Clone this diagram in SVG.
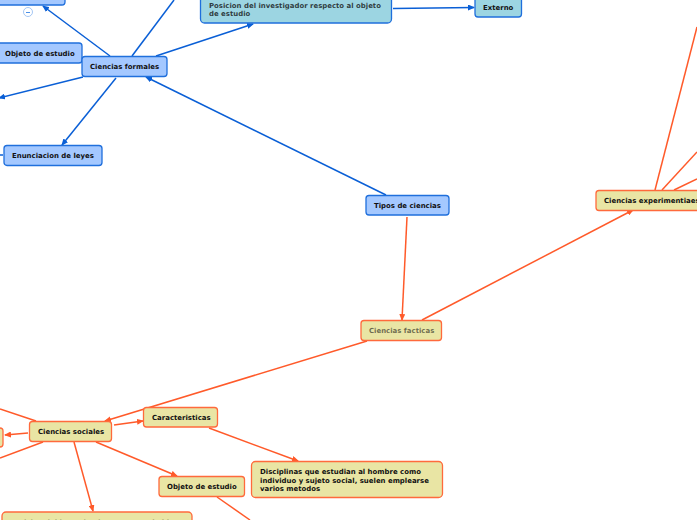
<svg xmlns="http://www.w3.org/2000/svg" width="697" height="520" viewBox="0 0 697 520">
<style>
text{font-family:"DejaVu Sans",Verdana,sans-serif;font-size:6.95px;font-weight:700;fill:#111}
rect{stroke-width:1.3}
.b rect{fill:#a4c8ff;stroke:#1f6fdc}
.c rect{fill:#9cd5e2;stroke:#1f6fdc}
.y rect{fill:#e9e5a4;stroke:#ff6a3c}
#connectors path{fill:none;stroke-width:1.5}
.bl{stroke:#0a5fd6}
.or{stroke:#ff5a2a}
</style>
<defs>
<marker id="ab" markerWidth="7" markerHeight="6" refX="6" refY="3" orient="auto" markerUnits="userSpaceOnUse"><path d="M0 0L7 3L0 6Z" fill="#0a5fd6"/></marker>
<marker id="ao" markerWidth="7" markerHeight="6" refX="6" refY="3" orient="auto" markerUnits="userSpaceOnUse"><path d="M0 0L7 3L0 6Z" fill="#ff5a2a"/></marker>
</defs>
<g id="connectors">
<path class="bl" marker-end="url(#ab)" d="M386 195L146 77"/>
<path class="bl" marker-end="url(#ab)" d="M110 56L43 6"/>
<path class="bl" d="M132 56L174 0"/>
<path class="bl" marker-end="url(#ab)" d="M156 56L253 24"/>
<path class="bl" marker-end="url(#ab)" d="M83 77L-1 98"/>
<path class="bl" marker-end="url(#ab)" d="M116 78L62 145"/>
<path class="bl" d="M3 155L0 155"/>
<path class="bl" marker-end="url(#ab)" d="M393 8.500L474 7.500"/>
<path class="or" marker-end="url(#ao)" d="M407 217L402 320"/>
<path class="or" marker-end="url(#ao)" d="M422 320L633 210"/>
<path class="or" marker-end="url(#ao)" d="M367 341L105 421"/>
<path class="or" d="M655 190L697 27"/>
<path class="or" d="M662 190L697 152"/>
<path class="or" d="M674 190L697 179"/>
<path class="or" marker-end="url(#ao)" d="M114 425L143 421"/>
<path class="or" marker-end="url(#ao)" d="M28 433L5 435"/>
<path class="or" d="M36 421L0 409"/>
<path class="or" d="M43 442L0 458"/>
<path class="or" marker-end="url(#ao)" d="M74 442L93 511"/>
<path class="or" marker-end="url(#ao)" d="M96 442L177 476"/>
<path class="or" marker-end="url(#ao)" d="M209 428L298 461"/>
<path class="or" d="M217 497L250 520"/>
</g>
<g id="n-teorias" class="b"><rect x="-20" y="-12" width="85" height="17" rx="3"/></g>
<g id="n-toggle"><circle cx="28" cy="12" r="4.500" fill="#fff" stroke="#8db8f0" stroke-width=".8"/><path d="M26 12.500h4" stroke="#4a90e8" stroke-width="1"/></g>
<g id="n-objeto1" class="b"><rect x="-8" y="43" width="90" height="20" rx="3"/><text x="5" y="56">Objeto de estudio</text></g>
<g id="n-formales" class="b"><rect x="82" y="56.500" width="85" height="20" rx="3"/><text x="90" y="69">Ciencias formales</text></g>
<g id="n-posicion" class="c"><rect x="200.500" y="-12" width="191" height="35" rx="4"/><text x="209" y="8" fill-opacity=".8">Posicion del investigador respecto al objeto</text><text x="209" y="16" fill-opacity=".8">de estudio</text></g>
<g id="n-externo" class="c"><rect x="475" y="-5" width="46.500" height="22" rx="3"/><text x="483" y="10">Externo</text></g>
<g id="n-leyes" class="b"><rect x="4" y="145.500" width="98" height="20" rx="3"/><text x="12" y="158">Enunciacion de leyes</text></g>
<g id="n-tipos" class="b"><rect x="366" y="195.500" width="83" height="19.500" rx="3"/><text x="374" y="208">Tipos de ciencias</text></g>
<g id="n-facticas" class="y"><rect x="361" y="320.500" width="80.500" height="20" rx="3"/><text x="369" y="333" fill-opacity=".6">Ciencias facticas</text></g>
<g id="n-experimentales" class="y"><rect x="596" y="190.500" width="110" height="20" rx="3"/><text x="604" y="203">Ciencias experimentiaes</text></g>
<g id="n-sociales" class="y"><rect x="29.500" y="421.500" width="82" height="20" rx="3"/><text x="38" y="434">Ciencias sociales</text></g>
<g id="n-izq" class="y"><rect x="-20" y="428" width="23" height="19" rx="3"/></g>
<g id="n-caract" class="y"><rect x="143.500" y="407.500" width="74" height="19.500" rx="3"/><text x="152" y="420">Caracteristicas</text></g>
<g id="n-objeto2" class="y"><rect x="159" y="476.500" width="85.500" height="20" rx="3"/><text x="167" y="489">Objeto de estudio</text></g>
<g id="n-disc" class="y"><rect x="251.500" y="461.500" width="191" height="36" rx="4"/><text x="260" y="474">Disciplinas que estudian al hombre como</text><text x="260" y="482.500">individuo y sujeto social, suelen emplearse</text><text x="260" y="491">varios metodos</text></g>
<g id="n-bottom" class="y"><rect x="2" y="512" width="190" height="30" rx="4"/><text x="10" y="524.500">Posicion del investigador respecto al objeto</text></g>
</svg>
